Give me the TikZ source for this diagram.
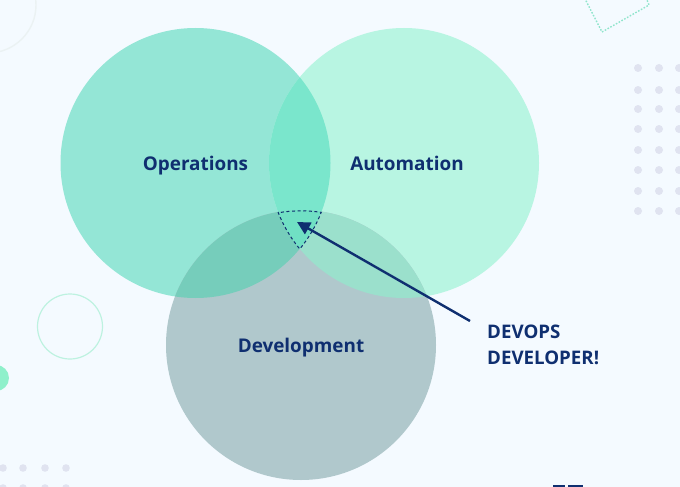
\documentclass[tikz,border=0pt]{standalone}
\usepackage{fontspec}
\setmainfont{Open Sans}
\usetikzlibrary{arrows.meta}
\definecolor{bgc}{HTML}{F4FAFF}
\definecolor{opc}{HTML}{94E6D6}
\definecolor{auc}{HTML}{B8F5E2}
\definecolor{dvc}{HTML}{B0C8CC}
\definecolor{oac}{HTML}{7AE6CC}
\definecolor{odc}{HTML}{76CDBB}
\definecolor{adc}{HTML}{9BE0CC}
\definecolor{cc}{HTML}{70E0C4}
\definecolor{navy}{HTML}{0F2F70}
\definecolor{dotc}{HTML}{E0E3F0}
\definecolor{arcc}{HTML}{EBF2F3}
\definecolor{ringc}{HTML}{BDF2E0}
\definecolor{blobc}{HTML}{8FF0CB}
\definecolor{dashc}{HTML}{8FE5CC}
\tikzset{
  lab/.style={font=\fontsize{18.9}{22}\selectfont\bfseries, text=navy, inner sep=0pt, anchor=base},
  callab/.style={font=\fontsize{18.7}{22}\selectfont\bfseries, text=navy, inner sep=0pt, anchor=base west},
  greydot/.style={fill=dotc, draw=none},
  callout/.style={draw=navy, line width=2.4pt, -{Triangle[length=13pt,width=13pt]}},
  regionedge/.style={draw=navy, line width=1pt, dash pattern=on 3pt off 2.6pt},
}
\begin{document}
\begin{tikzpicture}[x=1pt,y=-1pt]
\useasboundingbox (0,0) rectangle (680,487);
\fill[bgc] (0,0) rectangle (680,487);
\clip (0,0) rectangle (680,487);
% decoration
\draw[color=arcc, line width=1.4pt] (-12,5) circle[radius=48];
\draw[color=dashc, line width=1.4pt, dash pattern=on 1.6pt off 1.6pt] (583,-5) -- (602,32) -- (649,5) -- (645,-5);
\foreach \y in {68,90,109,129,150,170,191,211}
  \foreach \x in {638,659,679} \fill[greydot] (\x,\y) circle[radius=4];
\foreach \x in {3,23,45,66} {\fill[greydot] (\x,468) circle[radius=3.8]; \fill[greydot] (\x,488) circle[radius=3.8];}
\draw[color=ringc, line width=1.2pt] (70,326.5) circle[radius=32.5];
\fill[blobc] (-4,378) circle[radius=13];
\fill[navy] (553,485) rectangle (565,487);
\fill[navy] (568,485) rectangle (583,487);
% venn
\coordinate (co) at (195.5,163);
\coordinate (ca) at (404,163);
\coordinate (cd) at (301,345);
\fill[opc] (co) circle[radius=135];
\fill[auc] (ca) circle[radius=135];
\fill[dvc] (cd) circle[radius=135];
\begin{scope}\clip (co) circle[radius=135]; \fill[oac] (ca) circle[radius=135]; \fill[odc] (cd) circle[radius=135];\end{scope}
\begin{scope}\clip (ca) circle[radius=135]; \fill[adc] (cd) circle[radius=135];\end{scope}
\begin{scope}\clip (co) circle[radius=135]; \clip (ca) circle[radius=135]; \fill[cc] (cd) circle[radius=135];\end{scope}
\draw[regionedge] (278,212) arc[start angle=158.7,end angle=140.4,radius=135] arc[start angle=39.4,end angle=21.3,radius=135] arc[start angle=-81.4,end angle=-99.8,radius=135];
\node[lab] (ops) at (195.5,170) {Operations};
\node[lab] (aut) at (407,170) {Automation};
\node[lab] (dev) at (301,352) {Development};
\node[callab] (dv1) at (487,338) {DEVOPS};
\node[callab] (dv2) at (487,364) {DEVELOPER!};
\coordinate (tail) at (470,321);
\coordinate (tip) at (297,222);
\draw[callout] (tail) -- (tip);
\end{tikzpicture}
\end{document}
